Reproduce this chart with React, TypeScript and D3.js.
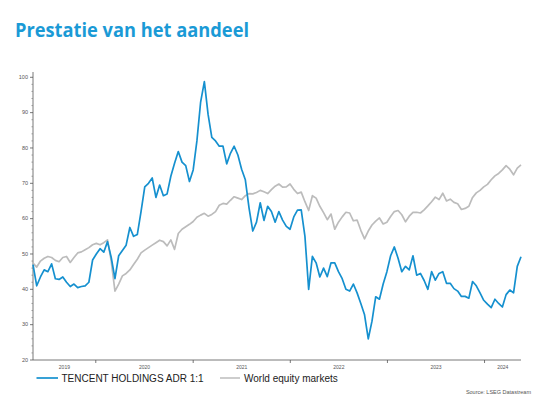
import React from 'react'
import * as d3 from 'd3'

// biweekly closes, starting 10 May 2019
const START = new Date(2019, 4, 10)
const STEP_DAYS = 14

const tencent = [
  47.0, 41.0, 43.5, 45.5, 45.0, 47.2, 43.0, 42.8, 43.5, 42.0,
  40.8, 41.5, 40.5, 40.8, 41.0, 42.0, 48.3, 50.0, 51.5, 50.5,
  53.5, 49.0, 43.0, 49.5, 51.0, 52.5, 57.5, 55.0, 55.5, 62.0,
  69.0, 70.0, 71.5, 66.0, 69.5, 66.5, 67.0, 72.0, 75.7, 79.0,
  76.0, 75.0, 70.5, 73.8, 82.0, 93.0, 98.8, 89.5, 83.0, 82.0,
  80.5, 80.5, 75.5, 78.5, 80.5, 78.0, 74.0, 71.0, 63.0, 56.5,
  59.0, 64.5, 59.5, 63.5, 62.0, 59.0, 62.0, 59.6, 57.8, 57.0,
  60.5, 62.4, 62.5, 55.0, 40.0, 49.3, 47.5, 43.5, 46.0, 43.6,
  47.5, 47.5, 45.0, 43.0, 40.0, 39.5, 41.5, 39.0, 36.0, 32.8,
  26.0, 31.0, 37.9, 37.2, 41.5, 45.0, 49.5, 52.0, 48.8, 45.0,
  46.5, 45.5, 49.5, 44.0, 44.5, 42.5, 40.0, 45.0, 42.6, 44.5,
  45.0, 41.7, 41.7, 40.2, 39.5, 38.0, 38.0, 37.5, 42.2, 41.0,
  39.0, 36.9, 35.8, 34.8, 37.2, 36.0, 35.0, 38.5, 39.8, 39.0,
  46.5, 49.2,
]

const world = [
  47.4, 46.3, 48.0, 48.8, 49.3, 49.0, 48.2, 47.8, 49.0, 49.3,
  47.6, 49.0, 50.3, 50.6, 51.2, 51.8, 52.6, 53.0, 52.6, 53.2,
  54.0, 48.0, 39.5, 41.5, 43.8, 44.5, 45.5, 47.0, 48.5, 50.3,
  51.1, 51.8, 52.5, 53.2, 53.9, 53.5, 52.3, 54.0, 51.3, 55.8,
  57.0, 57.7, 58.4, 59.2, 60.4, 61.0, 61.5, 60.7, 61.2, 62.0,
  63.8, 64.3, 64.1, 65.2, 66.2, 65.8, 65.4, 66.5, 67.1, 67.0,
  67.4, 68.0, 67.6, 67.1, 68.2, 69.2, 69.8, 68.9, 69.0, 69.8,
  68.3, 67.1, 67.5, 64.8, 62.3, 66.5, 65.8, 63.5, 61.7, 59.7,
  61.3, 57.0, 59.0, 60.5, 61.8, 61.6, 59.4, 59.6, 56.7, 54.3,
  56.5, 58.2, 59.3, 60.2, 58.5, 59.0, 60.6, 62.0, 62.3, 61.1,
  59.1, 60.7, 61.8, 61.8, 61.6, 62.5, 63.6, 64.8, 66.1, 65.4,
  67.2, 65.0, 65.5, 64.6, 64.2, 62.6, 62.9, 63.5, 66.0, 67.3,
  68.0, 69.0, 69.7, 71.0, 72.1, 72.8, 73.8, 75.0, 74.0, 72.4,
  74.3, 75.2,
]

const yTicks = [20, 30, 40, 50, 60, 70, 80, 90, 100]
const yearLabels = [2019, 2020, 2021, 2022, 2023, 2024]

const seriesNames = ['TENCENT HOLDINGS ADR 1:1', 'World equity markets']
const seriesColors = ['#1590cf', '#bcbcbc']

const W = 541
const H = 402
const plot = { left: 33, right: 521, top: 77.3, bottom: 360 }

export default function App() {
  const dates = tencent.map((_, i) => d3.timeDay.offset(START, i * STEP_DAYS))

  const x = d3.scaleTime()
    .domain([dates[0], dates[dates.length - 1]])
    .range([plot.left, plot.right])

  const y = d3.scaleLinear()
    .domain([20, 100])
    .range([plot.bottom, plot.top])

  const line = d3.line<number>()
    .x((_, i) => x(dates[i]))
    .y(d => y(d))

  const minorTicks = d3.range(20, 101, 2).filter(v => v % 10 !== 0)

  const [d0, d1] = x.domain()
  const yearBounds = d3.timeYear.range(d3.timeYear.ceil(d0), d1)

  const labelFont = '"Liberation Sans", Arial, sans-serif'

  return (
    <svg width={W} height={H} style={{ position: 'absolute', left: 0, top: 0, background: '#fff' }}>
      <text
        x={15}
        y={37}
        fill="#1a9ad6"
        fontFamily='"Open Sans", sans-serif'
        fontWeight={700}
        fontSize={19.5}
        textLength={234}
        lengthAdjust="spacingAndGlyphs"
      >
        Prestatie van het aandeel
      </text>

      {/* y axis */}
      <line x1={plot.left} x2={plot.left} y1={72} y2={plot.bottom} stroke="#555" strokeWidth={0.8} />
      {yTicks.map(t => (
        <g key={t}>
          <line x1={plot.left - 3} x2={plot.left} y1={y(t)} y2={y(t)} stroke="#555" strokeWidth={0.8} />
          <text
            x={plot.left - 5}
            y={y(t) + 1.8}
            textAnchor="end"
            fontSize={5.5}
            fill="#555"
            fontFamily={labelFont}
          >
            {t}
          </text>
        </g>
      ))}
      {minorTicks.map(t => (
        <line key={t} x1={plot.left - 1.6} x2={plot.left} y1={y(t)} y2={y(t)} stroke="#777" strokeWidth={0.6} />
      ))}

      {/* x axis */}
      <line x1={plot.left} x2={plot.right} y1={plot.bottom} y2={plot.bottom} stroke="#555" strokeWidth={0.8} />
      {yearBounds.map(d => (
        <line key={+d} x1={x(d)} x2={x(d)} y1={plot.bottom} y2={plot.bottom + 3} stroke="#555" strokeWidth={0.8} />
      ))}
      {yearLabels.map(yr => {
        const a = Math.max(+d0, +new Date(yr, 0, 1))
        const b = Math.min(+d1, +new Date(yr + 1, 0, 1))
        return (
          <text
            key={yr}
            x={(x(new Date(a)) + x(new Date(b))) / 2}
            y={plot.bottom + 8.5}
            textAnchor="middle"
            fontSize={5}
            fill="#555"
            fontFamily={labelFont}
          >
            {yr}
          </text>
        )
      })}

      {/* series */}
      <path d={line(world) ?? ''} fill="none" stroke={seriesColors[1]} strokeWidth={1.7} strokeLinejoin="round" />
      <path d={line(tencent) ?? ''} fill="none" stroke={seriesColors[0]} strokeWidth={1.7} strokeLinejoin="round" />

      {/* legend */}
      <line x1={36.5} x2={58} y1={378} y2={378} stroke={seriesColors[0]} strokeWidth={1.7} />
      <text x={61.5} y={381.6} fontSize={10} fill="#222" fontFamily={labelFont}>
        {seriesNames[0]}
      </text>
      <line x1={220} x2={240} y1={378} y2={378} stroke={seriesColors[1]} strokeWidth={1.5} />
      <text x={244} y={381.6} fontSize={10} fill="#222" fontFamily={labelFont}>
        {seriesNames[1]}
      </text>

      <text x={531} y={393.5} textAnchor="end" fontSize={5.5} fill="#555" fontFamily={labelFont}>
        Source: LSEG Datastream
      </text>
    </svg>
  )
}
